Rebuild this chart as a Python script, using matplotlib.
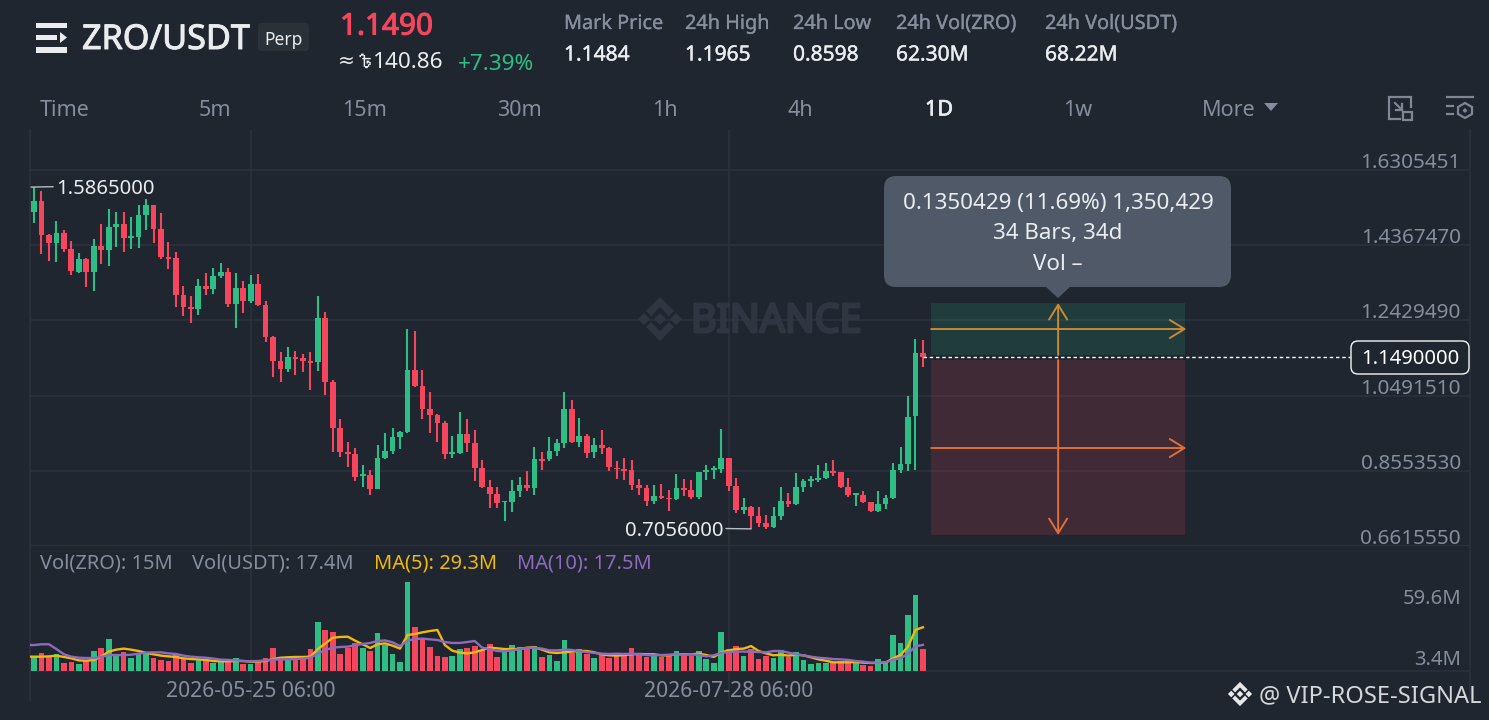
import matplotlib
matplotlib.use("Agg")
import matplotlib.pyplot as plt
import matplotlib.patheffects as pe
from matplotlib import font_manager as fm
from matplotlib.ft2font import FT2Font
from matplotlib.patches import Rectangle, FancyBboxPatch, Polygon
from matplotlib.transforms import ScaledTranslation

plt.rcParams['font.family'] = ['Noto Sans', 'DejaVu Sans']

# ---------- data ----------
opens = [1.5214,1.5515,1.4621,1.4415,1.4673,1.4269,1.3685,1.4011,1.3668,1.4346,1.4252,1.4845,1.4905,1.4553,1.4587,1.5154,1.5403,1.4776,1.4054,1.4037,
1.3092,1.2783,1.2723,1.3307,1.3247,1.3582,1.3668,1.2843,1.3264,1.2938,1.3359,1.2817,1.2001,1.1374,1.1177,1.1486,1.1460,1.1374,1.1357,1.2482,
1.0833,0.9647,0.9037,0.8977,0.8410,0.8445,0.8092,0.8883,0.9072,0.9424,0.9544,1.1150,1.0738,1.0145,0.9999,0.9776,0.8977,0.9011,0.9510,0.9269,
0.8616,0.8135,0.7946,0.7740,0.7740,0.8032,0.8187,0.8118,0.8848,0.8848,0.9072,0.9269,1.0137,0.9304,0.9450,0.9029,0.9226,0.9132,0.8634,0.8599,
0.8573,0.8187,0.8101,0.7766,0.7903,0.7860,0.7826,0.8118,0.8049,0.7886,0.8530,0.8565,0.8608,0.8882,0.8161,0.7551,0.7620,0.7396,0.7207,0.7113,
0.7388,0.7783,0.7697,0.8144,0.8290,0.8307,0.8367,0.8547,0.8530,0.8127,0.7938,0.7938,0.7740,0.7517,0.7706,0.7852,0.8565,0.8728,0.9956,1.1580]
closes = [1.5515,1.4621,1.4415,1.4673,1.4269,1.3694,1.4011,1.3668,1.4346,1.4252,1.4828,1.4905,1.4553,1.4596,1.5145,1.5403,1.4776,1.4054,1.4011,1.3092,
1.2783,1.2723,1.3307,1.3247,1.3573,1.3668,1.2843,1.3264,1.2938,1.3359,1.2817,1.2010,1.1374,1.1177,1.1486,1.1434,1.1374,1.1331,1.2482,1.0833,
0.9656,0.9037,0.8977,0.8402,0.8462,0.8092,0.8891,0.9072,0.9424,0.9553,1.1150,1.0729,1.0154,0.9999,0.9776,0.8986,0.9029,0.9510,0.9269,0.8616,
0.8135,0.7946,0.7732,0.7783,0.8024,0.8187,0.8110,0.8848,0.8805,0.9063,0.9261,1.0137,0.9304,0.9450,0.9020,0.9226,0.9132,0.8642,0.8591,0.8547,
0.8187,0.8101,0.7766,0.7903,0.7843,0.7826,0.8109,0.8058,0.7877,0.8522,0.8573,0.8616,0.8882,0.8161,0.7542,0.7620,0.7396,0.7216,0.7113,0.7379,
0.7783,0.7697,0.8144,0.8290,0.8333,0.8367,0.8547,0.8504,0.8127,0.7920,0.7980,0.7740,0.7508,0.7706,0.7852,0.8565,0.8728,0.9948,1.1580,1.1490]
highs = [1.5865,1.5772,1.4656,1.4999,1.4759,1.4475,1.4175,1.4029,1.4518,1.4913,1.5309,1.5231,1.5214,1.5094,1.5394,1.5549,1.5403,1.5188,1.4441,1.4192,
1.3324,1.3058,1.3505,1.3651,1.3771,1.3900,1.3780,1.3642,1.3453,1.3591,1.3616,1.2929,1.2027,1.1623,1.1735,1.1632,1.1563,1.1606,1.3057,1.2654,
1.0893,0.9879,0.9295,0.9140,0.8694,0.8565,0.9209,0.9535,0.9647,0.9570,1.2198,1.2164,1.1159,1.0575,1.0008,0.9828,0.9450,1.0059,0.9879,0.9596,
0.8823,0.8307,0.8144,0.7783,0.8316,0.8393,0.8539,0.9166,0.9029,0.9415,0.9372,1.0575,1.0369,0.9905,0.9510,0.9389,0.9613,0.9158,0.8797,0.8874,
0.8822,0.8333,0.8187,0.8195,0.8221,0.8058,0.8462,0.8341,0.8324,0.8522,0.8702,0.8676,0.9630,0.8882,0.8367,0.7843,0.7654,0.7611,0.7422,0.7611,
0.8127,0.7980,0.8496,0.8333,0.8427,0.8693,0.8745,0.8822,0.8530,0.8376,0.7980,0.8023,0.7749,0.8023,0.7929,0.8745,0.9157,1.0472,1.1940,1.1915]
lows = [1.4948,1.4140,1.3969,1.3943,1.4192,1.3591,1.3659,1.3298,1.3195,1.3891,1.3840,1.4312,1.4200,1.4261,1.4295,1.4759,1.4432,1.4003,1.3762,1.2783,
1.2551,1.2371,1.2577,1.3092,1.3118,1.3513,1.2775,1.2242,1.2611,1.2886,1.2809,1.1873,1.0979,1.0850,1.1108,1.1014,1.1108,1.0636,1.1125,1.0515,
0.9046,0.8917,0.8659,0.8299,0.8144,0.7938,0.8084,0.8865,0.8986,0.9115,0.9527,1.0712,0.9896,0.9535,0.9304,0.8865,0.8891,0.8994,0.9029,0.8281,
0.8110,0.7594,0.7603,0.7268,0.7500,0.7886,0.8041,0.7929,0.8573,0.8805,0.8926,0.9140,0.9278,0.9158,0.8883,0.8891,0.8994,0.8548,0.8341,0.8324,
0.8058,0.7929,0.7645,0.7688,0.7826,0.7517,0.7809,0.7895,0.7826,0.7834,0.8324,0.8350,0.8504,0.8023,0.7474,0.7439,0.7056,0.7113,0.7061,0.7087,
0.7285,0.7620,0.7680,0.8015,0.8135,0.8264,0.8350,0.8419,0.8118,0.7877,0.7645,0.7723,0.7491,0.7499,0.7577,0.7834,0.8504,0.8539,0.8573,1.1236]
volumes = [10.0,12.3,9.4,11.6,5.1,6.3,4.7,6.7,13.2,15.4,21.4,10.3,12.5,8.9,12.3,11.6,8.9,7.6,6.7,11.6,
7.8,5.6,7.4,8.0,5.1,5.8,6.7,8.5,4.9,4.9,6.3,8.5,15.2,7.4,7.4,7.4,8.0,15.0,32.6,27.2,
26.1,11.6,15.6,18.5,15.6,13.6,25.2,17.4,11.2,5.8,59.6,29.3,21.9,16.1,10.0,9.6,10.0,14.5,15.2,16.7,
13.8,18.1,9.6,13.4,17.2,16.3,14.7,17.0,9.6,10.5,6.7,20.5,11.8,15.0,11.2,8.7,11.6,8.5,10.0,9.8,
15.2,11.2,9.6,10.0,9.2,11.6,13.2,9.8,9.8,13.6,8.3,5.6,26.3,15.0,16.5,10.0,14.7,7.8,9.8,8.7,
14.3,9.6,12.7,7.1,4.5,5.4,5.6,6.3,6.7,6.7,6.7,4.2,3.6,7.8,6.7,24.1,18.5,37.3,50.9,15.0]
# moving-average lines, starting one bar before the first visible bar (clipped at the panel edge)
ma5 = [9.6,9.6,9.6,9.8,10.3,9.4,8.5,7.1,6.9,7.4,9.6,13.0,14.3,15.0,14.3,13.4,12.1,11.2,10.3,9.8,9.4,
8.5,8.0,7.8,7.4,6.7,6.5,6.5,6.7,6.7,6.3,6.3,6.7,8.0,8.9,9.2,9.4,9.4,9.6,14.7,18.5,
22.3,22.8,23.0,20.3,17.9,15.4,17.9,18.5,17.0,15.0,24.1,24.8,25.9,26.8,27.5,17.4,13.6,12.3,11.8,12.5,
14.1,15.6,15.2,14.7,14.7,14.7,15.6,15.9,14.3,12.5,12.1,12.5,13.0,13.4,13.4,12.5,11.2,10.5,10.3,10.7,
11.2,11.4,11.2,11.2,10.5,10.5,11.2,11.2,11.2,11.6,10.7,9.4,12.5,13.8,14.7,15.0,16.7,13.4,11.8,10.5,
10.9,10.3,10.9,10.5,9.2,7.8,6.9,5.8,5.8,5.8,6.0,5.6,5.4,5.4,5.6,8.5,10.7,16.3,27.5,29.3]
ma10 = [17.4,17.4,17.9,17.9,14.7,11.2,9.6,8.9,8.7,8.7,9.4,10.7,10.7,10.7,10.9,11.6,12.3,12.5,12.5,11.8,11.4,
10.3,9.6,9.2,8.9,8.3,7.6,7.4,7.1,6.7,6.5,6.7,7.1,7.6,7.8,7.8,8.0,8.3,8.9,11.6,14.1,
15.6,16.1,16.3,17.2,18.1,18.8,20.1,20.5,19.2,16.7,20.3,21.4,21.7,21.2,20.8,19.4,18.8,18.8,19.4,20.1,
15.6,14.7,13.4,13.2,13.8,14.7,15.4,15.6,15.0,13.8,13.8,14.3,14.1,13.2,12.7,12.1,11.6,11.4,11.6,11.4,
11.6,11.2,10.7,10.5,10.7,10.9,11.2,10.9,11.2,10.7,9.8,10.5,12.1,12.7,13.0,13.0,13.0,12.7,12.5,13.4,
13.4,12.3,11.2,10.5,9.6,8.9,8.5,8.0,7.8,7.4,6.7,6.3,5.6,5.6,5.8,7.6,8.5,11.6,16.5,17.5]

price_ticks = [1.6305451,1.4367470,1.2429490,1.0491510,0.8553530,0.6615550]
price_tick_labels = ['1.6305451','1.4367470','1.2429490','1.0491510','0.8553530','0.6615550']
vol_ticks = [59.6,3.4]
vol_tick_labels = ['59.6M','3.4M']
date_ticks = [29,93]
date_labels = ['2026-05-25 06:00','2026-07-28 06:00']
interval_labels = ['Time','5m','15m','30m','1h','4h','1D','1w']
stat_labels = ['Mark Price','24h High','24h Low','24h Vol(ZRO)','24h Vol(USDT)']
stat_values = ['1.1484','1.1965','0.8598','62.30M','68.22M']

# measure tool (prices, bar indexes)
tool_start, tool_end = 120.1, 154.1
tool_top, tool_upper_edge, tool_lower_edge, tool_bottom = 1.2877, 1.1537, 1.1408, 0.6898
tool_target, tool_stop = 1.2207, 0.9140

# ---------- style ----------
BG = '#1F2630'; GRID = '#2B323D'; GREY = '#848E9C'; WHITE = '#EAECEF'
UP = '#2EBD85'; DOWN = '#F6465D'; YEL = '#F0B90B'; PUR = '#8E6BBF'
W, H = 1489, 720
X0, DX = 34.0, 7.47          # pixel of the first bar, pixels per bar
LEFT, RIGHT = 30, 1470
TOP, SPLIT, BOT = 130, 546, 701
PX = 0.72                    # points per pixel

fig = plt.figure(figsize=(W/100, H/100), dpi=100, facecolor=BG)
ax = fig.add_axes([LEFT/W, 1-SPLIT/H, (RIGHT-LEFT)/W, (SPLIT-TOP)/H], facecolor=BG)
av = fig.add_axes([LEFT/W, 1-BOT/H, (RIGHT-LEFT)/W, (BOT-SPLIT)/H], facecolor=BG)
xlim = ((LEFT-X0)/DX, (RIGHT-X0)/DX)
n = len(opens)
xs = list(range(n))
colors = [UP if c >= o else DOWN for o, c in zip(opens, closes)]

# ---------- price panel ----------
ax.set_xlim(xlim)
ax.set_ylim(0.6615, 1.7336)
ax.set_xticks(date_ticks)
ax.set_yticks(price_ticks)
ax.set_yticklabels(price_tick_labels)
ax.yaxis.tick_right()
ax.grid(True, color=GRID, lw=1.2)
ax.set_axisbelow(True)
ax.tick_params(axis='x', length=0, labelbottom=False)
ax.tick_params(axis='y', length=0, pad=-9*PX, labelsize=14.9, labelcolor=GREY)
off = ScaledTranslation(0, 9.5/100, fig.dpi_scale_trans)
for t in ax.yaxis.get_major_ticks():
    t.label2.set_ha('right')
    t.label2.set_transform(t.label2.get_transform()+off)
for name, sp in ax.spines.items():
    sp.set_color(GRID); sp.set_linewidth(1.2); sp.set_visible(name != 'top')

ax.vlines(xs, lows, highs, colors=colors, lw=1.5, zorder=3)
ax.bar(xs, [abs(c-o) for o, c in zip(opens, closes)],
       bottom=[min(o, c) for o, c in zip(opens, closes)],
       width=0.77, color=colors, linewidth=0, zorder=4)

ax.add_patch(Rectangle((tool_start, tool_upper_edge), tool_end-tool_start, tool_top-tool_upper_edge,
                       facecolor=UP, alpha=0.15, lw=0, zorder=2))
ax.add_patch(Rectangle((tool_start, tool_bottom), tool_end-tool_start, tool_lower_edge-tool_bottom,
                       facecolor=DOWN, alpha=0.15, lw=0, zorder=2))
mid = (tool_start+tool_end)/2
def arrow(p0, p1, col):
    ax.annotate('', xy=p1, xytext=p0, zorder=5,
                arrowprops=dict(arrowstyle='->,head_length=1.05,head_width=0.65', color=col, lw=1.4,
                                shrinkA=0, shrinkB=0, mutation_scale=10))
ORA1, ORA2 = '#C98A35', '#DE6F38'
arrow((tool_start, tool_target), (tool_end+0.15, tool_target), ORA1)
arrow((mid, tool_upper_edge), (mid, tool_top), ORA1)
arrow((tool_start, tool_stop), (tool_end+0.15, tool_stop), ORA2)
arrow((mid, tool_lower_edge), (mid, tool_bottom), ORA2)

ax.hlines(closes[-1], n-1, (1350-X0)/DX, colors='#FFFFFF', lw=1, linestyles=(0, (2.5, 2)), zorder=5)

# high / low markers
hi_i = highs.index(max(highs)); lo_i = lows.index(min(lows))
ax.annotate(f'{max(highs):.7f}', xy=(hi_i-0.4, max(highs)), xytext=(25*PX, -2*PX), textcoords='offset points',
            color=WHITE, fontsize=14.6, va='center', ha='left',
            arrowprops=dict(arrowstyle='-', color='#B7BDC6', lw=1, shrinkA=0, shrinkB=0,
                            relpos=(0, 0.62)))
ax.annotate(f'{min(lows):.7f}', xy=(lo_i, min(lows)), xytext=(-28*PX, -2*PX), textcoords='offset points',
            color=WHITE, fontsize=14.6, va='center', ha='right',
            arrowprops=dict(arrowstyle='-', color='#B7BDC6', lw=1, shrinkA=0, shrinkB=0,
                            relpos=(1, 0.62)))

# ---------- volume panel ----------
vbottom, vtop = -20.1, 83.75
av.set_xlim(xlim)
av.set_ylim(vbottom, vtop)
av.set_xticks(date_ticks)
av.set_xticklabels(date_labels)
av.set_yticks(vol_ticks)
av.set_yticklabels(vol_tick_labels)
av.yaxis.tick_right()
av.grid(True, axis='x', color=GRID, lw=1.2)
av.set_axisbelow(True)
av.axhline(0, color=GRID, lw=1.2, zorder=0)
av.tick_params(axis='x', length=0, pad=-20*PX, labelsize=15.2, labelcolor=GREY)
av.tick_params(axis='y', length=0, pad=-9*PX, labelsize=14.6, labelcolor=GREY)
for t, dy in zip(av.yaxis.get_major_ticks(), (-14, 8)):
    t.label2.set_ha('right')
    t.label2.set_transform(t.label2.get_transform()+ScaledTranslation(0, dy/100, fig.dpi_scale_trans))
for name, sp in av.spines.items():
    sp.set_color(GRID); sp.set_linewidth(1.2); sp.set_visible(name in ('left', 'right'))
av.bar(xs, volumes, width=0.76, color=colors, linewidth=0, zorder=3)
ma_xs = [-1] + xs
av.plot(ma_xs, ma5, color=YEL, lw=1.7, zorder=4)
av.plot(ma_xs, ma10, color=PUR, lw=1.7, zorder=5)

# ---------- overlay in pixel space: header, toolbar, tooltips ----------
ov = fig.add_axes([0, 0, 1, 1], facecolor='none', zorder=10)
ov.set_xlim(0, W); ov.set_ylim(H, 0); ov.axis('off')

def T(x, y, s, size=14.6, color=WHITE, ha='left', stroke=0, **k):
    t = ov.text(x, y+2, s, fontsize=size, color=color, ha=ha, va='center', **k)
    if stroke:
        t.set_path_effects([pe.withStroke(linewidth=stroke, foreground=color)])
    return t
def R(x0, y0, x1, y1, color, **k):
    ov.add_patch(Rectangle((x0, y0), x1-x0, y1-y0, facecolor=color, lw=0, **k))

def family_with(ch):
    for f in fm.fontManager.ttflist:
        try:
            if ord(ch) in FT2Font(f.fname).get_charmap():
                return f.name
        except Exception:
            pass
    return None

# logo
for y0, y1, x1 in ((23, 28, 67), (35, 40, 57), (47, 53, 67)):
    R(36, y0, x1, y1, WHITE)
ov.add_patch(Polygon([(60, 32), (67, 37.5), (60, 43)], facecolor=WHITE, lw=0))

T(82, 38, 'ZRO/USDT', size=24.6, stroke=0.7)
ov.add_patch(FancyBboxPatch((262, 27), 43, 20, boxstyle='round,pad=4,rounding_size=4', facecolor='#2B3139', lw=0))
T(283.5, 38, 'Perp', size=12.5, ha='center')
T(340, 25, '1.1490', size=21.4, color=DOWN, stroke=0.8)

taka = '৳'
taka_family = family_with(taka)
T(338, 60, '≈', size=14.5)
T(353, 61, taka, size=16, family=[taka_family or 'DejaVu Sans', 'DejaVu Sans'])
T(373, 61, '140.86', size=16.2)
T(458, 62, '+7.39%', size=16.2, color=UP)

for x, lab, val in zip((564, 685, 793, 896, 1045), stat_labels, stat_values):
    T(x, 22, lab, size=14.3, color=GREY, stroke=0.2)
    T(x, 53, val, size=15.1, stroke=0.3)

for x, lab in zip((65, 215, 364, 519, 665, 800, 939, 1078), interval_labels):
    active = lab == '1D'
    T(x, 108, lab, size=15.5, color=WHITE if active else GREY, ha='center', stroke=0.5 if active else 0)
T(1229, 108, 'More', size=15.5, color=GREY, ha='center')
ov.add_patch(Polygon([(1264, 103), (1278, 103), (1271, 111)], facecolor=GREY, lw=0))

# toolbar icons
IC = '#7E8794'
ov.plot([1400, 1389, 1389, 1411, 1411], [119, 119, 97, 97, 107], color=IC, lw=1.6, solid_joinstyle='miter')
ov.add_patch(Rectangle((1403, 112), 9, 8, facecolor='none', edgecolor=IC, lw=1.6))
ov.plot([1395, 1402], [103, 110], color=IC, lw=1.6)
ov.plot([1396, 1402, 1402], [110, 110, 104], color=IC, lw=1.6)
ov.plot([1447, 1473], [97, 97], color=IC, lw=1.6)
ov.plot([1447, 1453], [106, 106], color=IC, lw=1.6)
ov.plot([1447, 1453], [114, 114], color=IC, lw=1.6)
ov.add_patch(Polygon([(1465, 103), (1472, 107), (1472, 114), (1465, 118), (1458, 114), (1458, 107)],
                     facecolor='none', edgecolor=IC, lw=1.6))
ov.add_patch(Polygon([(1465, 108), (1467.5, 110.5), (1465, 113), (1462.5, 110.5)], facecolor=IC, lw=0))

# watermark
def binance_mark(cx, cy, s, col):
    for dx, dy in ((-16, 0), (16, 0), (0, 0)):
        ov.add_patch(Polygon([(cx+(dx-6)*s, cy+dy*s), (cx+dx*s, cy-6*s), (cx+(dx+6)*s, cy+dy*s), (cx+dx*s, cy+6*s)],
                             facecolor=col, lw=0))
    for sg in (-1, 1):
        ov.add_patch(Polygon([(cx, cy+sg*22*s), (cx+14*s, cy+sg*8*s), (cx+9*s, cy+sg*3*s), (cx, cy+sg*12*s),
                              (cx-9*s, cy+sg*3*s), (cx-14*s, cy+sg*8*s)], facecolor=col, lw=0))
WM = '#2F3642'
binance_mark(660, 319, 1.0, WM)
T(691, 320, 'BINANCE', size=28.3, color=WM, stroke=2.0)

# legend line
T(40, 562, 'Vol(ZRO): 15M', size=14.4, color=GREY)
T(192, 562, 'Vol(USDT): 17.4M', size=14.4, color=GREY)
T(374, 562, 'MA(5): 29.3M', size=14.4, color=YEL)
T(517, 562, 'MA(10): 17.5M', size=14.4, color=PUR)

# tooltip
TIP = '#4F5968'
ov.add_patch(FancyBboxPatch((896, 188), 323, 87, boxstyle='round,pad=12,rounding_size=12', facecolor=TIP, lw=0))
ov.add_patch(Polygon([(1045, 286), (1071, 286), (1058, 298)], facecolor=TIP, lw=0))
T(1058, 202, '0.1350429 (11.69%) 1,350,429', size=16.1, ha='center')
T(1058, 232, '34 Bars, 34d', size=16.1, ha='center')
T(1058, 262, 'Vol –', size=16.1, ha='center')

# last price box
ov.add_patch(FancyBboxPatch((1357, 347), 106, 21, boxstyle='round,pad=6,rounding_size=7',
                            facecolor=BG, edgecolor='#F5F5F5', lw=1))
T(1410, 357, f'{closes[-1]:.7f}', size=14.6, color='#FFFFFF', ha='center')

# signature
binance_mark(1240, 694, 0.55, '#E8E8E8')
T(1259, 694, '@ VIP-ROSE-SIGNAL', size=17, color='#D5D7DA')

fig.savefig('out.png', dpi=100, facecolor=BG)
